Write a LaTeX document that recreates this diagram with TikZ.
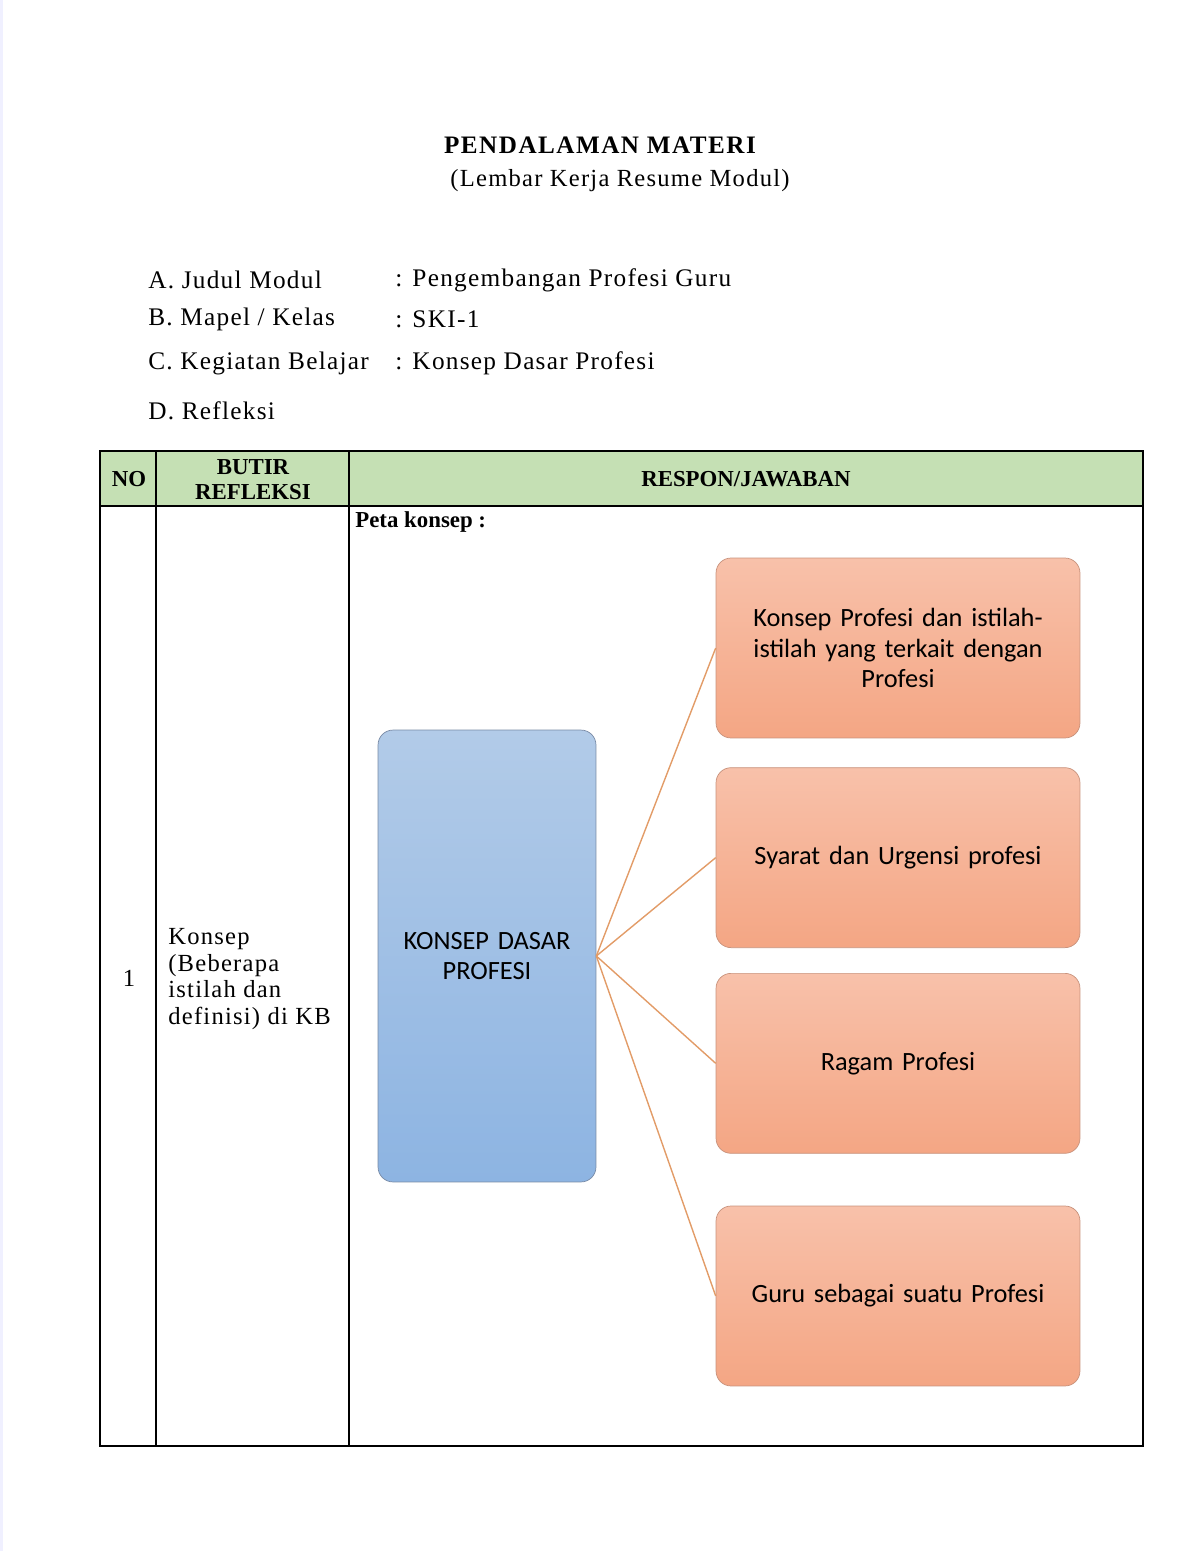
\documentclass[tikz,border=0pt]{standalone}
\usepackage{fontspec}
\setmainfont{Liberation Serif}
\newfontfamily\calibri{Carlito}
\usepackage{tikz}
\usetikzlibrary{positioning}

\definecolor{headgreen}{RGB}{197,224,180}
\definecolor{bluetop}{RGB}{178,203,232}
\definecolor{bluebot}{RGB}{141,180,226}
\definecolor{blueline}{RGB}{120,138,165}
\definecolor{orangetop}{RGB}{248,193,170}
\definecolor{orangebot}{RGB}{244,166,132}
\definecolor{orangeline}{RGB}{200,146,124}
\definecolor{linkcol}{RGB}{226,156,104}

\begin{document}
\begin{tikzpicture}
    [x=0.02cm, y=-0.02cm,
      node distance = 5mm,
      txt/.style={inner sep=0pt, font=\fontsize{14.4}{15.3}\selectfont\addfontfeature{LetterSpace=5}},
      cell/.style={inner sep=0pt, font=\fontsize{14}{15.3}\selectfont\addfontfeature{LetterSpace=5}},
      head/.style={inner sep=0pt, align=center, font=\bfseries\fontsize{13}{14}\selectfont},
      konsep/.style={draw=blueline, rounded corners=0.3cm, top color=bluetop, bottom color=bluebot,
        minimum width=4.36cm, minimum height=9.04cm, align=center, text width=4cm,
        font=\calibri\fontsize{15}{17.5}\selectfont},
      sub/.style={draw=orangeline, rounded corners=0.3cm, top color=orangetop, bottom color=orangebot,
        minimum width=7.28cm, minimum height=3.6cm, align=center, text width=6.6cm,
        font=\calibri\fontsize{15}{17.5}\selectfont},
      link/.style={-, linkcol, line width=0.8pt},
      grid/.style={line width=1.4pt},
      thin/.style={line width=0.8pt}]

    \useasboundingbox (0,0) rectangle (1200,1551);
    \fill[blue!6] (0,0) rectangle (3,1551);

    % judul
    \node (judul) at (600,145) [txt, font=\bfseries\fontsize{14.3}{15}\selectfont\addfontfeature{LetterSpace=6}] {PENDALAMAN MATERI};
    \node (lembar) at (620,181) [txt, font=\fontsize{14}{15}\selectfont\addfontfeature{LetterSpace=5}] {(Lembar Kerja Resume Modul)};

    \node (a) at (148,280) [txt, anchor=west] {A. Judul Modul};
    \node (b) at (148,319) [txt, anchor=west] {B. Mapel / Kelas};
    \node (c) at (148,363) [txt, anchor=west] {C. Kegiatan Belajar};
    \node (d) at (148,411) [txt, anchor=west] {D. Refleksi};
    \node (ai) at (395,280) [txt, anchor=west] {: Pengembangan Profesi Guru};
    \node (bi) at (395,319) [txt, anchor=west] {: SKI-1};
    \node (ci) at (395,363) [txt, anchor=west] {: Konsep Dasar Profesi};

    % tabel
    \fill[headgreen] (100,451) rectangle (1143,506);
    \draw[grid] (100,451) rectangle (1143,1446);
    \draw[thin] (100,506) -- (1143,506);
    \draw[thin] (156,451) -- (156,1446);
    \draw[grid] (349,451) -- (349,1446);

    \node (no) at (129,479) [head] {NO};
    \node (butir) at (253,480) [head, font=\bfseries\fontsize{13}{14.2}\selectfont] {BUTIR\\REFLEKSI};
    \node (respon) at (746,479) [head] {RESPON/JAWABAN};
    \node (peta) at (355,522) [head, anchor=west] {Peta konsep :};
    \node (nomor) at (129,978) [cell] {1};
    \node (isi) at (168,979) [cell, anchor=west, align=left] {Konsep\\(Beberapa\\istilah dan\\definisi) di KB};

    % peta konsep
    \node (dasar) at (487,956) [konsep] {KONSEP DASAR\\PROFESI};
    \node (k1) at (898,648) [sub] {Konsep Profesi dan istilah-\\istilah yang terkait dengan\\Profesi};
    \node (k2) [below=0.58cm of k1, sub] {Syarat dan Urgensi profesi};
    \node (k3) [below=0.5cm of k2, sub] {Ragam Profesi};
    \node (k4) [below=1.04cm of k3, sub] {Guru sebagai suatu Profesi};

    \draw[link] (dasar.east) to (k1.west);
    \draw[link] (dasar.east) to (k2.west);
    \draw[link] (dasar.east) to (k3.west);
    \draw[link] (dasar.east) to (k4.west);
  \end{tikzpicture}
\end{document}
